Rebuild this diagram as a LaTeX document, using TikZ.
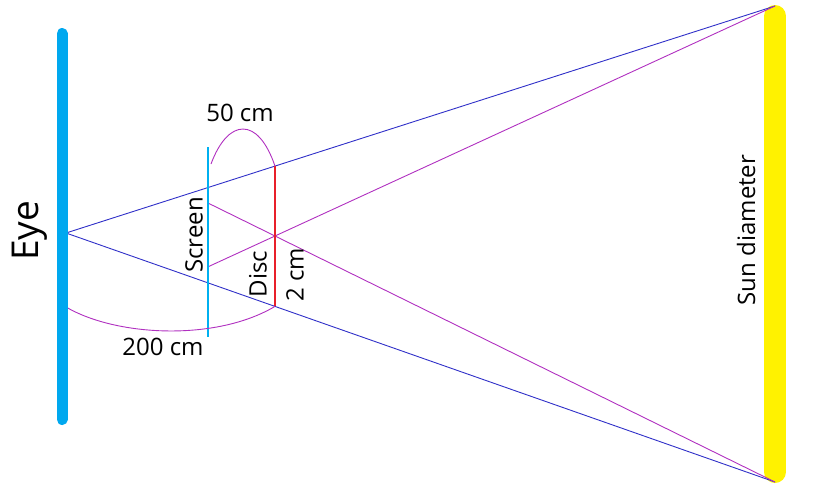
\documentclass[tikz,border=0pt]{standalone}
\usepackage{fontspec}
\setmainfont{Open Sans}
\usetikzlibrary{calc,intersections}
\definecolor{eyecyan}{HTML}{00A8EF}
\definecolor{screencyan}{HTML}{00B0F0}
\definecolor{sunyellow}{HTML}{FFF200}
\definecolor{rayblue}{HTML}{3030C8}
\definecolor{raypurple}{HTML}{B030C0}
\definecolor{discred}{HTML}{E8202A}
\tikzset{
  lbl/.style={font=\fontsize{24}{28}\selectfont, inner sep=0pt},
  bigl/.style={font=\fontsize{37}{44}\selectfont, inner sep=0pt},
  blueray/.style={rayblue, line width=0.9pt},
  purpleray/.style={raypurple, line width=0.9pt},
}
\begin{document}
\begin{tikzpicture}[x=1pt, y=-1pt]
    \useasboundingbox (0,0) rectangle (822,493);
    % set coordinates
    \coordinate (E) at (66,233);
    \coordinate (Ea) at (62,33.5);
    \coordinate (Eb) at (62,419.5);
    \coordinate (E2) at (66,307);
    \coordinate (ST) at (775,6);
    \coordinate (SB) at (775,482);
    \coordinate (Sa) at (775,16);
    \coordinate (Sb) at (775,472);
    \coordinate (O) at (275,236);
    \coordinate (K1) at (208,147);
    \coordinate (K2) at (208,337);
    \coordinate (D1) at (275,100);
    \coordinate (D2) at (275,400);
    \coordinate (A1) at (211,164);
    % define paths
    \path [name path=ET] (E) -- (ST);
    \path [name path=EB] (E) -- (SB);
    \path [name path=KK] (K1) -- (K2);
    \path [name path=DD] (D1) -- (D2);
    \path [name path=TO] (ST) -- ($(ST)!1.3!(O)$);
    \path [name path=BO] (SB) -- ($(SB)!1.3!(O)$);
    % define intersections
    \path [name intersections={of=ET and DD, by=DT}];
    \path [name intersections={of=EB and DD, by=DB}];
    \path [name intersections={of=TO and KK, by=P1}];
    \path [name intersections={of=BO and KK, by=P2}];
    % draw figure
    \draw [sunyellow, line width=22pt, line cap=round] (Sa) -- (Sb);
    \draw [blueray] (E) -- (ST);
    \draw [blueray] (E) -- (SB);
    \draw [purpleray] (ST) -- (P1);
    \draw [purpleray] (SB) -- (P2);
    \draw [screencyan, line width=1.2pt] (K1) -- (K2);
    \draw [discred, line width=1.1pt] (DT) -- (DB);
    \draw [purpleray] (A1) .. controls (228,118) and (258,116) .. (DT);
    \draw [purpleray] (E2) .. controls (115,336) and (215,342) .. (DB);
    \draw [eyecyan, line width=11pt, line cap=round] (Ea) -- (Eb);
    % add labels
    \node [bigl, rotate=90] (eye) at (30,231) {Eye};
    \node [lbl] (fifty) at (240,113) {50 cm};
    \node [lbl] (twohundred) at (163,347) {200 cm};
    \node [lbl, rotate=90] (screen) at (194,235) {Screen};
    \node [lbl, rotate=90] (disc) at (258,274) {Disc};
    \node [lbl, rotate=90] (two) at (295,275) {2 cm};
    \node [lbl, rotate=90] (sun) at (746,230) {Sun diameter};
\end{tikzpicture}
\end{document}
